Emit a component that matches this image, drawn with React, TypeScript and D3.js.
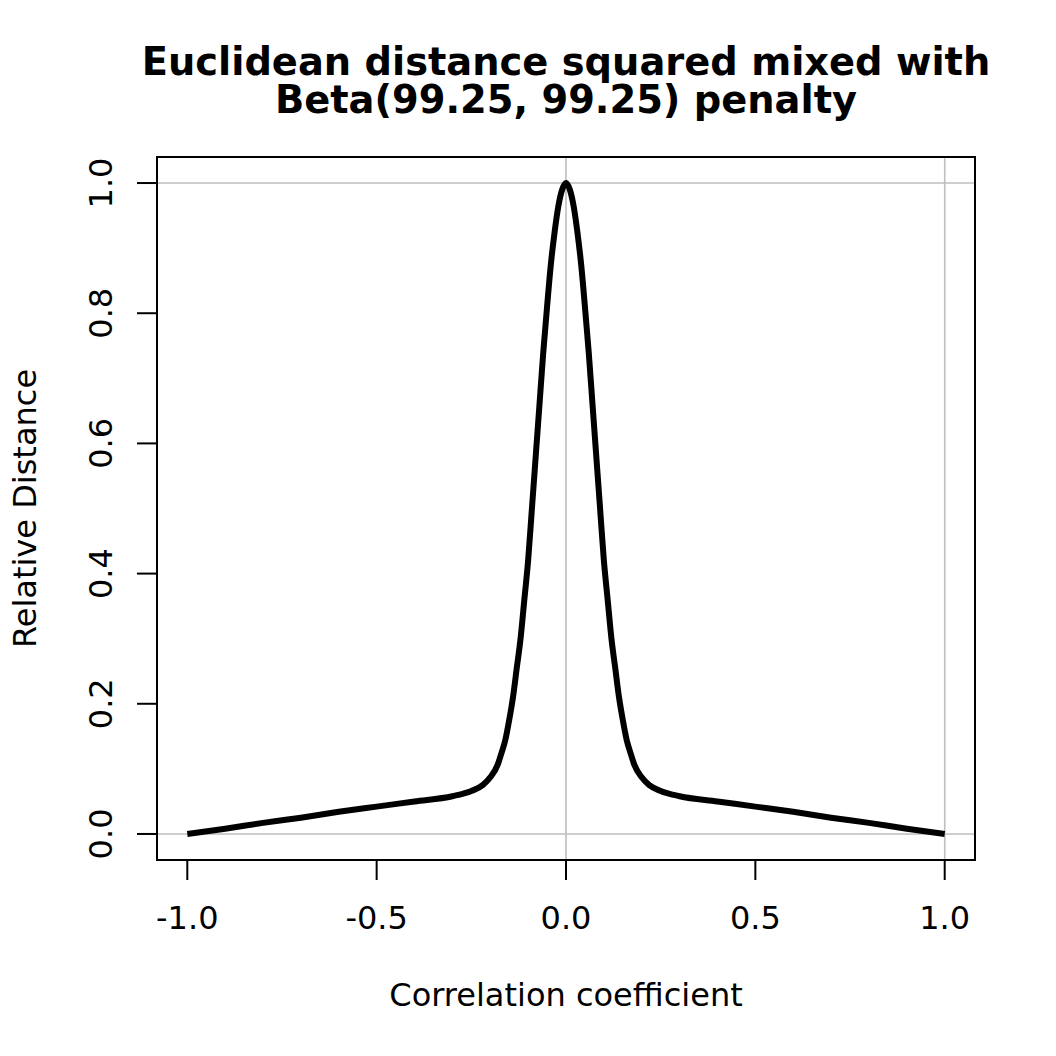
import * as d3 from "d3";

// Correlation coefficient r (>= 0 side, curve is symmetric)
const R_VALUES = [0, 0.01, 0.02, 0.03, 0.04, 0.05, 0.06, 0.07, 0.08, 0.09, 0.1, 0.11, 0.12, 0.13, 0.14, 0.15, 0.16, 0.17, 0.18, 0.2, 0.22, 0.25, 0.3, 0.4, 0.5, 0.6, 0.7, 0.8, 0.9, 1.0];
const DIST_VALUES = [1.0, 0.99, 0.965, 0.925, 0.875, 0.81, 0.74, 0.66, 0.58, 0.5, 0.42, 0.36, 0.3, 0.255, 0.21, 0.175, 0.145, 0.125, 0.107, 0.087, 0.075, 0.066, 0.058, 0.05, 0.042, 0.034, 0.025, 0.017, 0.008, 0.0];

const X_TICKS = [-1, -0.5, 0, 0.5, 1];
const Y_TICKS = [0, 0.2, 0.4, 0.6, 0.8, 1];
const V_LINES = [0, 1];
const H_LINES = [0, 1];

const TITLE = ["Euclidean distance squared mixed with", "Beta(99.25, 99.25) penalty"];
const X_LABEL = "Correlation coefficient";
const Y_LABEL = "Relative Distance";

export default function App() {
  const W = 1056;
  const H = 1056;
  const left = 157, right = 975, top = 157, bottom = 860;
  const font = "'DejaVu Sans', sans-serif";
  const fs = 32;

  const x = d3.scaleLinear().domain([-1.08, 1.08]).range([left, right]);
  const y = d3.scaleLinear().domain([-0.04, 1.04]).range([bottom, top]);

  // full symmetric series
  const pts: [number, number][] = [];
  for (let i = R_VALUES.length - 1; i > 0; i--) pts.push([-R_VALUES[i], DIST_VALUES[i]]);
  for (let i = 0; i < R_VALUES.length; i++) pts.push([R_VALUES[i], DIST_VALUES[i]]);

  const line = d3
    .line<[number, number]>()
    .x((d) => x(d[0]))
    .y((d) => y(d[1]))
    .curve(d3.curveMonotoneX);

  const grey = "#bebebe";

  return (
    <svg width={W} height={H} style={{ display: "block", position: "absolute", left: 0, top: 0, background: "#fff" }}>
      <rect x={0} y={0} width={W} height={H} fill="#fff" />
      {/* title */}
      {TITLE.map((t, i) => (
        <text key={i} x={566} y={75 + i * 38} textAnchor="middle" fontFamily={font} fontWeight="bold" fontSize={38.4}>
          {t}
        </text>
      ))}

      {/* reference lines */}
      {V_LINES.map((v) => (
        <line key={"v" + v} x1={x(v)} x2={x(v)} y1={top} y2={bottom} stroke={grey} strokeWidth={1.6} />
      ))}
      {H_LINES.map((h) => (
        <line key={"h" + h} x1={left} x2={right} y1={y(h)} y2={y(h)} stroke={grey} strokeWidth={1.6} />
      ))}

      {/* curve */}
      <path d={line(pts) ?? ""} fill="none" stroke="#000" strokeWidth={6} strokeLinejoin="round" />

      {/* box */}
      <rect x={left} y={top} width={right - left} height={bottom - top} fill="none" stroke="#000" strokeWidth={2} />

      {/* x axis */}
      <line x1={x(X_TICKS[0])} x2={x(X_TICKS[X_TICKS.length - 1])} y1={bottom} y2={bottom} stroke="#000" strokeWidth={2} />
      {X_TICKS.map((t) => (
        <g key={"xt" + t}>
          <line x1={x(t)} x2={x(t)} y1={bottom} y2={bottom + 20} stroke="#000" strokeWidth={2} />
          <text x={x(t)} y={929} textAnchor="middle" fontFamily={font} fontSize={fs}>
            {t.toFixed(1)}
          </text>
        </g>
      ))}

      {/* y axis */}
      {Y_TICKS.map((t) => (
        <g key={"yt" + t}>
          <line x1={left - 20} x2={left} y1={y(t)} y2={y(t)} stroke="#000" strokeWidth={2} />
          <text
            transform={`translate(112,${y(t)}) rotate(-90)`}
            textAnchor="middle"
            fontFamily={font}
            fontSize={fs}
          >
            {t.toFixed(1)}
          </text>
        </g>
      ))}

      {/* axis labels */}
      <text x={566} y={1006} textAnchor="middle" fontFamily={font} fontSize={fs}>
        {X_LABEL}
      </text>
      <text transform={`translate(36,${(top + bottom) / 2}) rotate(-90)`} textAnchor="middle" fontFamily={font} fontSize={fs}>
        {Y_LABEL}
      </text>
    </svg>
  );
}
